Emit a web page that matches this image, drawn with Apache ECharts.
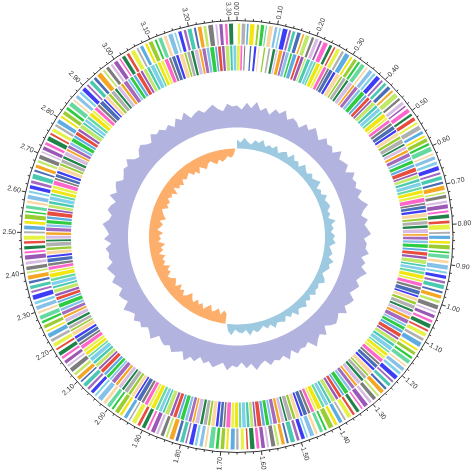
<!DOCTYPE html>
<html><head><meta charset="utf-8">
<script src="https://cdn.jsdelivr.net/npm/echarts@6/dist/echarts.min.js"></script>
<style>html,body{margin:0;padding:0;background:#fff}#c{width:474px;height:473px}</style>
</head><body><div id="c"></div>
<script>
var genomeMb = 3.32;
var tickLabels = ['0.00','0.10','0.20','0.30','0.40','0.50','0.60','0.70','0.80','0.90','1.00','1.10','1.20','1.30','1.40','1.50','1.60','1.70','1.80','1.90','2.00','2.10','2.20','2.30','2.40','2.50','2.60','2.70','2.80','2.90','3.00','3.10','3.20','3.30'];
// genes: [start kb, length kb]
var outerGenes = [[2,6],[12,9],[25,4],[33,11],[50,5],[60,8],[72,3],[80,10],[95,6],[106,4],[115,12],[131,5],[140,7],[152,9],[166,4],[174,10],[190,6],[200,8],[212,5],[222,11],[238,7],[250,4],[258,9],[272,6],[282,12],[298,5],[308,8],[320,6],[330,10],[345,4],[355,9],[368,6],[378,11],[394,5],[404,7],[416,9],[430,5],[440,12],[456,6],[468,8],[480,4],[490,10],[505,6],[516,9],[530,5],[540,11],[556,7],[568,5],[577,9],[590,6],[600,12],[618,4],[626,8],[640,7],[652,10],[668,5],[678,9],[692,6],[702,11],[718,4],[726,8],[740,6],[750,10],[765,5],[775,9],[790,7],[800,12],[818,5],[828,8],[842,6],[852,10],[868,4],[876,9],[890,7],[902,11],[918,5],[928,8],[942,6],[952,10],[968,5],[978,9],[992,7],[1004,11],[1020,4],[1030,8],[1044,6],[1055,10],[1070,5],[1080,9],[1094,7],[1106,12],[1124,5],[1134,8],[1148,6],[1158,10],[1174,4],[1182,9],[1196,7],[1208,11],[1224,5],[1234,8],[1248,6],[1258,10],[1274,5],[1284,9],[1298,7],[1310,11],[1326,4],[1336,8],[1350,6],[1360,10],[1376,5],[1386,9],[1400,7],[1412,12],[1430,5],[1440,8],[1454,6],[1464,10],[1480,4],[1488,9],[1502,7],[1514,11],[1530,5],[1540,8],[1554,6],[1564,10],[1580,5],[1590,9],[1604,7],[1616,11],[1632,4],[1642,8],[1656,6],[1666,10],[1682,5],[1692,9],[1706,7],[1718,12],[1736,5],[1746,8],[1760,6],[1770,10],[1786,4],[1794,9],[1808,7],[1820,11],[1836,5],[1846,8],[1860,6],[1870,10],[1886,5],[1896,9],[1910,7],[1922,11],[1938,4],[1948,8],[1962,6],[1972,10],[1988,5],[1998,9],[2012,7],[2024,12],[2042,5],[2052,8],[2066,6],[2076,10],[2092,4],[2100,9],[2114,7],[2126,11],[2142,5],[2152,8],[2166,6],[2176,10],[2192,5],[2202,9],[2216,7],[2228,11],[2244,4],[2254,8],[2268,6],[2278,10],[2294,5],[2304,9],[2318,7],[2330,12],[2348,5],[2358,8],[2372,6],[2382,10],[2398,4],[2406,9],[2420,7],[2432,11],[2448,5],[2458,8],[2472,6],[2482,10],[2498,5],[2508,9],[2522,7],[2534,11],[2550,4],[2560,8],[2574,6],[2584,10],[2600,5],[2610,9],[2624,7],[2636,12],[2654,5],[2664,8],[2678,6],[2688,10],[2704,4],[2712,9],[2726,7],[2738,11],[2754,5],[2764,8],[2778,6],[2788,10],[2804,5],[2814,9],[2828,7],[2840,11],[2856,4],[2866,8],[2880,6],[2890,10],[2906,5],[2916,9],[2930,7],[2942,12],[2960,5],[2970,8],[2984,6],[2994,10],[3010,4],[3018,9],[3032,7],[3044,11],[3060,5],[3070,8],[3084,6],[3094,10],[3110,5],[3120,9],[3134,7],[3146,11],[3162,4],[3172,8],[3186,6],[3196,10],[3212,5],[3222,9],[3236,7],[3248,12],[3266,5],[3276,8],[3290,6],[3300,10]];
var innerGenes = [[0,8],[10,5],[20,3],[36,4],[48,6],[60,3],[75,4],[88,5],[100,7],[110,4],[118,9],[130,6],[138,8],[150,5],[158,10],[172,6],[181,8],[192,4],[199,9],[211,7],[220,5],[228,10],[241,6],[250,8],[261,5],[268,9],[280,7],[290,11],[304,5],[312,8],[323,6],[332,10],[345,5],[353,9],[365,7],[375,11],[389,6],[398,8],[409,5],[417,10],[430,7],[440,9],[452,6],[461,11],[475,5],[483,8],[494,7],[504,10],[517,6],[526,9],[538,7],[548,11],[562,5],[570,8],[581,7],[591,10],[604,6],[613,9],[625,7],[635,11],[649,5],[657,8],[668,7],[678,10],[691,6],[700,9],[712,7],[722,11],[736,5],[744,8],[755,7],[765,10],[778,6],[787,9],[799,7],[809,11],[823,5],[831,8],[842,7],[852,10],[865,6],[874,9],[886,7],[896,11],[910,5],[918,8],[929,7],[939,10],[952,6],[961,9],[973,7],[983,11],[997,5],[1005,8],[1016,7],[1026,10],[1039,6],[1048,9],[1060,7],[1070,11],[1084,5],[1092,8],[1103,7],[1113,10],[1126,6],[1135,9],[1147,7],[1157,11],[1171,5],[1179,8],[1190,7],[1200,10],[1213,6],[1222,9],[1234,7],[1244,11],[1258,5],[1266,8],[1277,7],[1287,10],[1300,6],[1309,9],[1321,7],[1331,11],[1345,5],[1353,8],[1364,7],[1374,10],[1387,6],[1396,9],[1408,7],[1418,11],[1432,5],[1440,8],[1451,7],[1461,10],[1474,6],[1483,9],[1495,7],[1505,11],[1519,5],[1527,8],[1538,7],[1548,10],[1561,6],[1570,9],[1582,7],[1592,11],[1606,5],[1614,8],[1625,7],[1635,10],[1648,6],[1657,9],[1669,7],[1679,11],[1693,5],[1701,8],[1712,7],[1722,10],[1735,6],[1744,9],[1756,7],[1766,11],[1780,5],[1788,8],[1799,7],[1809,10],[1822,6],[1831,9],[1843,7],[1853,11],[1867,5],[1875,8],[1886,7],[1896,10],[1909,6],[1918,9],[1930,7],[1940,11],[1954,5],[1962,8],[1973,7],[1983,10],[1996,6],[2005,9],[2017,7],[2027,11],[2041,5],[2049,8],[2060,7],[2070,10],[2083,6],[2092,9],[2104,7],[2114,11],[2128,5],[2136,8],[2147,7],[2157,10],[2170,6],[2179,9],[2191,7],[2201,11],[2215,5],[2223,8],[2234,7],[2244,10],[2257,6],[2266,9],[2278,7],[2288,11],[2302,5],[2310,8],[2321,7],[2331,10],[2344,6],[2353,9],[2365,7],[2375,11],[2389,5],[2397,8],[2408,7],[2418,10],[2431,6],[2440,9],[2452,7],[2462,11],[2476,5],[2484,8],[2495,7],[2505,10],[2518,6],[2527,9],[2539,7],[2549,11],[2563,5],[2571,8],[2582,7],[2592,10],[2605,6],[2614,9],[2626,7],[2636,11],[2650,5],[2658,8],[2669,7],[2679,10],[2692,6],[2701,9],[2713,7],[2723,11],[2737,5],[2745,8],[2756,7],[2766,10],[2779,6],[2788,9],[2800,7],[2810,11],[2824,5],[2832,8],[2843,7],[2853,10],[2866,6],[2875,9],[2887,7],[2897,11],[2911,5],[2919,8],[2930,7],[2940,10],[2953,6],[2962,9],[2974,7],[2984,11],[2998,5],[3006,8],[3017,7],[3027,10],[3040,6],[3049,9],[3061,7],[3071,11],[3085,5],[3093,8],[3104,7],[3114,10],[3127,6],[3136,9],[3148,7],[3158,11],[3172,5],[3180,8],[3191,7],[3201,10],[3214,6],[3223,9],[3235,7],[3245,11],[3259,5],[3267,8],[3278,7],[3288,10],[3301,6],[3310,8]];
var gcContent = [22,18,25,20,27,19,23,17,24,21,26,18,22,20,16,23,19,25,21,17,24,20,22,18,26,19,21,23,17,25,20,22,19,24,18,21,26,20,17,23,19,22,25,18,21,20,24,17,22,19,26,21,18,23,20,17,24,22,19,25,18,21,23,20,16,24,19,22,27,18,21,20,23,17,25,19,22,20,24,18,21,26,19,23,17,22,20,25,18,21,24,19,22,17,23,20,26,18,21,24,19,22,20,17,25,21,18,23,20,24,19,22,26,18,21,23,17,20,24,19,22,25,18,21,20,23,17,24,19,22,26,20,18,23,21,17,25,19,22,24,18,20,23,21,26,19,17,22,24,20,18,25,21,23,19,22,17,24,20,26,18,21,23,19,22,25,20,17,24,21];
var gcSkew = [9,6,11,7,5,10,8,12,6,9,7,11,5,8,10,6,12,7,9,5,11,8,6,10,7,9,12,5,8,6,11,7,9,10,6,8,5,12,7,9,6,10,8,11,5,7,9,6,12,8,10,7,5,9,11,6,8,7,10,5,9,6,11,8,7,12,6,9,5,10,8,7,11,6,9,5,8,10,7,12,6,9,8,5,11,7,-10,-13,-8,-14,-11,-9,-15,-12,-8,-13,-10,-14,-9,-12,-16,-11,-8,-13,-10,-15,-9,-12,-14,-10,-8,-13,-11,-15,-9,-12,-10,-14,-8,-13,-11,-16,-9,-12,-10,-14,-8,-11,-13,-9,-15,-12,-10,-8,-14,-11,-13,-9,-12,-10,-15,-8,-13,-11,-14,-9,-12,-10,-8,-13,-11,-15,-9,-12,-14,-10,-8,-11,-13,-9,-12,-10,-7,-9,-6];

var palette = ['#e6f244','#7fd0e8','#9b59b6','#2ecc40','#f5a623','#b0b0b0','#3d3df5','#ff66cc','#66d9a0','#c0e86b','#5dade2','#a569bd','#1e8449','#fad7a0','#7d7d7d','#f1e60f','#48c9b0','#e74c3c','#85c1e9','#d7bde2','#9acd32','#4b6cb7'];
var R0 = 216;
function geneRing(data, r0, r1, step){
  return {type:'custom', coordinateSystem:'polar', data:data, silent:true,
    renderItem:function(params, api){
      var s = api.value(0)/1000, l = api.value(1)/1000, i = params.dataIndex;
      var c = api.coord([0,0]);
      var a0 = api.coord([R0, s]), a1 = api.coord([R0, s+l]);
      var sa = Math.atan2(a0[1]-c[1], a0[0]-c[0]), ea = Math.atan2(a1[1]-c[1], a1[0]-c[0]);
      return {type:'sector', shape:{cx:c[0], cy:c[1], r0:r0, r:r1, startAngle:sa, endAngle:ea, clockwise:true},
        style:{fill:palette[(i*step)%palette.length]}};
    }};
}
function bandSeries(vals, base, colorFn){
  return {type:'custom', coordinateSystem:'polar', data:[0], silent:true,
    renderItem:function(params, api){
      var n = vals.length, children=[];
      var step = genomeMb/n;
      var cur=null, curSign=null;
      function flush(){ if(cur){ children.push({type:'polygon', shape:{points:cur.out.concat(cur.inn.reverse())}, style:{fill:colorFn(curSign)}}); } }
      for (var i=0;i<=n;i++){
        var v = vals[i % n], sg = v>=0?1:-1;
        if (sg!==curSign){ flush(); cur={out:[],inn:[]}; curSign=sg; }
        var ang = i*step;
        cur.out.push(api.coord([base+v, ang]));
        cur.inn.push(api.coord([base, ang]));
        if (i<n){ var nv = vals[(i+1)%n]; if ((nv>=0?1:-1)!==sg){ cur.out.push(api.coord([base, ang+step*0.5])); cur.inn.push(api.coord([base, ang+step*0.5])); } }
      }
      flush();
      return {type:'group', children:children};
    }};
}
var labelSeries = {type:'custom', coordinateSystem:'polar', data:tickLabels.map(function(t){return [R0+5, parseFloat(t)];}), silent:true,
  renderItem:function(params, api){
    var c = api.coord([0,0]); var p = api.coord([api.value(0), api.value(1)]);
    var th = Math.atan2(p[1]-c[1], p[0]-c[0]);
    var rot = -th, align='left';
    if (Math.cos(th) < -0.001 || (Math.abs(Math.cos(th))<0.001 && Math.sin(th)>0)) { rot = -th + Math.PI; align='right'; }
    return {type:'text', x:p[0], y:p[1], rotation:rot,
      style:{text:tickLabels[params.dataIndex], textAlign:align, textVerticalAlign:'middle', fill:'#333', font:'7px "Liberation Sans"'}};
  }};
var chart = echarts.init(document.getElementById('c'));
chart.setOption({
  animation:false,
  polar:{center:['50%','50%'], radius:R0},
  angleAxis:{type:'value', min:0, max:genomeMb, startAngle:90, clockwise:true, interval:0.1,
    axisLine:{show:true, lineStyle:{color:'#333', width:1}},
    axisTick:{show:true, length:4, lineStyle:{color:'#333'}},
    minorTick:{show:true, splitNumber:5, length:2, lineStyle:{color:'#333'}},
    axisLabel:{show:false}, splitLine:{show:false}},
  radiusAxis:{type:'value', min:0, max:R0, show:false, axisLine:{show:false}, axisTick:{show:false}, axisLabel:{show:false}, splitLine:{show:false}},
  series:[
    geneRing(outerGenes, 192, 213, 5),
    geneRing(innerGenes, 166, 191, 7),
    bandSeries(gcContent, 109, function(){return '#b3b3e0';}),
    bandSeries(gcSkew, 88, function(s){return s>0?'#9ecae1':'#fdae6b';}),
    labelSeries
  ]
});
</script></body></html>
